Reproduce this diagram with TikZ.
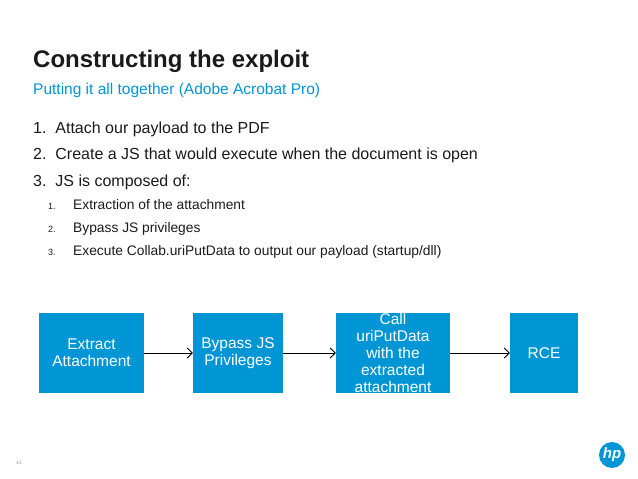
\documentclass[tikz,border=0pt]{standalone}
\usepackage{fontspec}
\setmainfont{Liberation Sans}
\usetikzlibrary{arrows.meta}
\definecolor{hpblue}{HTML}{0096D6}
\definecolor{titlegrey}{HTML}{1A1A1A}
\tikzset{
  stepbox/.style={fill=hpblue,text=white,align=center,font=\fontsize{15.5}{17}\selectfont,inner sep=0pt},
  item/.style={anchor=base west,inner sep=0pt,font=\fontsize{16}{18}\selectfont,text=titlegrey},
  subitem/.style={anchor=base west,inner sep=0pt,font=\fontsize{13.8}{16}\selectfont,text=titlegrey},
  flow/.style={-{Straight Barb[length=5pt]},line width=0.9pt}
}
\begin{document}
\begin{tikzpicture}[x=1pt,y=-1pt]
\useasboundingbox (0,0) rectangle (638,479);
\node[anchor=base west,inner sep=0pt,font=\fontsize{24}{28}\bfseries\selectfont,text=titlegrey] (title) at (33,67) {Constructing the exploit};
\node[anchor=base west,inner sep=0pt,font=\fontsize{15.5}{18}\selectfont,text=hpblue] (sub) at (33,94) {Putting it all together (Adobe Acrobat Pro)};
%-------------
\node[item] (i1) at (33,133) {1.\ \ Attach our payload to the PDF};
\node[item] (i2) at (33,159) {2.\ \ Create a JS that would execute when the document is open};
\node[item] (i3) at (33,186) {3.\ \ JS is composed of:};
\node[subitem] (s1) at (48,209) {\small 1.};
\node[subitem] (t1) at (73,209) {Extraction of the attachment};
\node[subitem] (s2) at (48,232) {\small 2.};
\node[subitem] (t2) at (73,232) {Bypass JS privileges};
\node[subitem] (s3) at (48,255) {\small 3.};
\node[subitem] (t3) at (73,255) {Execute Collab.uriPutData to output our payload (startup/dll)};
%-------------
\node[stepbox,minimum width=105pt,minimum height=80pt] (extract) at (91.5,353) {Extract\\Attachment};
\node[stepbox,minimum width=90pt,minimum height=80pt] (bypass) at (238,353) {Bypass JS\\Privileges};
\node[stepbox,minimum width=114pt,minimum height=80pt] (call) at (393,353) {};
\node[text=white,align=center,font=\fontsize{15.5}{17}\selectfont,inner sep=0pt] (calltext) at (call) {Call\\uriPutData\\with the\\extracted\\attachment};
\node[stepbox,minimum width=68pt,minimum height=80pt] (rce) at (544,353) {RCE};
\foreach \from/\to in {extract/bypass,bypass/call,call/rce}
\draw[flow] (\from) -- (\to);
%-------------
\node[anchor=base west,inner sep=0pt,font=\fontsize{5}{6}\selectfont,text=black!40] (page) at (16,464) {41};
\node[circle,fill=hpblue,minimum size=26pt,inner sep=0pt,text=white,font=\fontsize{15}{15}\bfseries\itshape\selectfont] (logo) at (612,455) {hp};
\end{tikzpicture}
\end{document}
